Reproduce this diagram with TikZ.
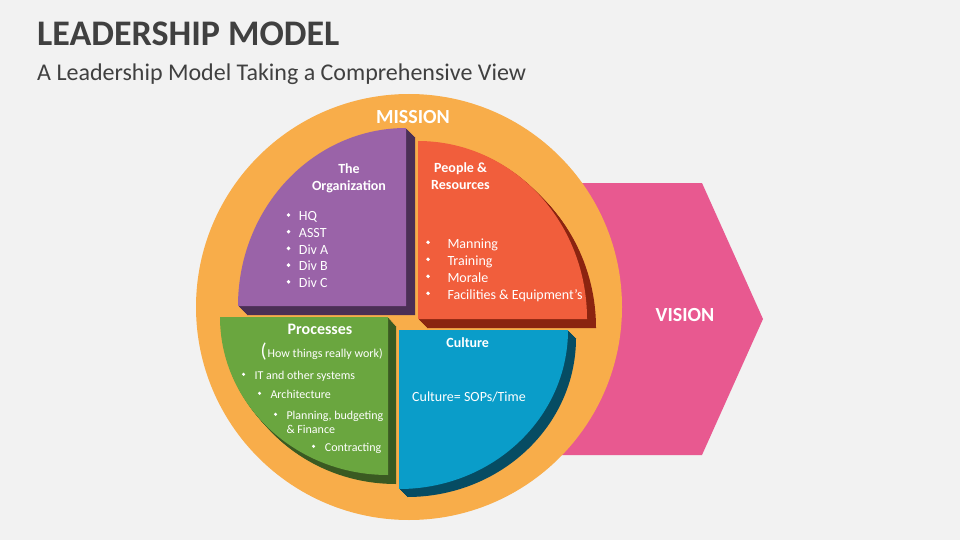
\documentclass[tikz,border=0pt]{standalone}
\usepackage{fontspec}
\setmainfont{Carlito}
\definecolor{bg}{HTML}{F2F2F2}
\definecolor{ring}{HTML}{F8AD4A}
\definecolor{pink}{HTML}{E85990}
\definecolor{purp}{HTML}{9A63A8}
\definecolor{purpd}{HTML}{4B2F55}
\definecolor{red1}{HTML}{F15E3C}
\definecolor{red1d}{HTML}{8B2410}
\definecolor{grn}{HTML}{6AA63F}
\definecolor{grnd}{HTML}{3A5A22}
\definecolor{blu}{HTML}{0A9DC9}
\definecolor{blud}{HTML}{064C63}
\definecolor{ttl}{HTML}{404040}
\newcommand\myfs[1]{\fontsize{#1}{#1}\selectfont}
\begin{document}
\begin{tikzpicture}[x=1pt,y=-1pt,
  lbl/.style={text=white, inner sep=0pt, anchor=base west, font=\myfs{14}},
  hdr/.style={lbl, font=\myfs{14}\bfseries},
  sml/.style={lbl, font=\myfs{12}},
  dot/.style={circle, fill=white, inner sep=0pt, minimum size=3.9pt},
  sdot/.style={dot, minimum size=3.4pt},
  big/.style={text=white, inner sep=0pt, anchor=base, font=\myfs{20}\bfseries}]
\useasboundingbox (0,0) rectangle (960,540);
\fill[bg] (0,0) rectangle (960,540);
% title
\node[anchor=base west, inner sep=0pt, text=ttl, font=\myfs{36}\bfseries] (title) at (37,46) {LEADERSHIP MODEL};
\node[anchor=base west, inner sep=0pt, text=ttl, font=\myfs{24}] (subtitle) at (37,81) {A Leadership Model Taking a Comprehensive View};
% vision arrow
\fill[pink] (480,183) -- (702,183) -- (763,319) -- (702,455) -- (480,455) -- cycle;
% mission ring
\fill[ring] (409,307) circle[radius=213];
% purple quarter
\foreach \d in {1,...,9}
  \fill[purpd, shift={(\d,\d)}] (406,306) -- (406,128) arc[start angle=-90,end angle=-180,x radius=168,y radius=178] -- cycle;
\fill[purp] (406,306) -- (406,128) arc[start angle=-90,end angle=-180,x radius=168,y radius=178] -- cycle;
% orange quarter
\foreach \d in {1,...,9}
  \fill[red1d, shift={(\d,\d)}] (418,319) -- (418,141) arc[start angle=-90,end angle=0,x radius=169,y radius=178] -- cycle;
\fill[red1] (418,319) -- (418,141) arc[start angle=-90,end angle=0,x radius=169,y radius=178] -- cycle;
% green quarter
\foreach \d in {1,...,8}
  \fill[grnd, shift={(\d,\d*9/8)}] (388,317) -- (220,317) arc[start angle=180,end angle=90,x radius=168,y radius=158] -- cycle;
\fill[grn] (388,317) -- (220,317) arc[start angle=180,end angle=90,x radius=168,y radius=158] -- cycle;
% blue quarter
\foreach \d in {1,...,8}
  \fill[blud, shift={(\d,\d)}] (399,330) -- (568,330) arc[start angle=0,end angle=90,x radius=169,y radius=159] -- cycle;
\fill[blu] (399,330) -- (568,330) arc[start angle=0,end angle=90,x radius=169,y radius=159] -- cycle;
% labels
\node[big] (mission) at (413,123.3) {MISSION};
\node[big] (vision) at (685,321.7) {VISION};
% organization
\node[hdr, anchor=base] (org1) at (349,174) {The};
\node[hdr, anchor=base] (org2) at (349,190.7) {Organization};
\foreach \t [count=\i] in {HQ,ASST,Div A,Div B,Div C}{
  \node[dot] (ob\i) at (288.5,215+16.7*\i-16.7) {};
  \node[lbl] (ot\i) at (298.7,220.7+16.7*\i-16.7) {\t};
}
% people
\node[hdr] (pr1) at (434,172.7) {People \&};
\node[hdr] (pr2) at (431,189.3) {Resources};
\foreach \t [count=\i] in {Manning,Training,Morale,Facilities \& Equipment's}{
  \node[dot] (pb\i) at (428,242.3+17*\i-17) {};
  \node[lbl] (pt\i) at (447.3,248+17*\i-17) {\t};
}
% processes
\node[lbl, anchor=base, font=\myfs{16}\bfseries] (proc) at (320,334) {Processes};
\node[lbl, font=\myfs{20}] (paren) at (260.5,357.3) {(};
\node[sml] (how) at (267.5,357.3) {How things really work)};
\node[sdot] (b1) at (243.5,374.3) {};
\node[sml] (t1) at (254.3,379) {IT and other systems};
\node[sdot] (b2) at (259.5,393.3) {};
\node[sml] (t2) at (270.3,398) {Architecture};
\node[sdot] (b3) at (275.5,414.3) {};
\node[sml] (t3) at (286.3,419) {Planning, budgeting};
\node[sml] (t3b) at (286.3,433.7) {\& Finance};
\node[sdot] (b4) at (313.5,446.3) {};
\node[sml] (t4) at (324.7,451) {Contracting};
% culture
\node[hdr, anchor=base] (cult) at (467.7,347.7) {Culture};
\node[lbl] (cult2) at (412,401.7) {Culture= SOPs/Time};
\end{tikzpicture}
\end{document}
